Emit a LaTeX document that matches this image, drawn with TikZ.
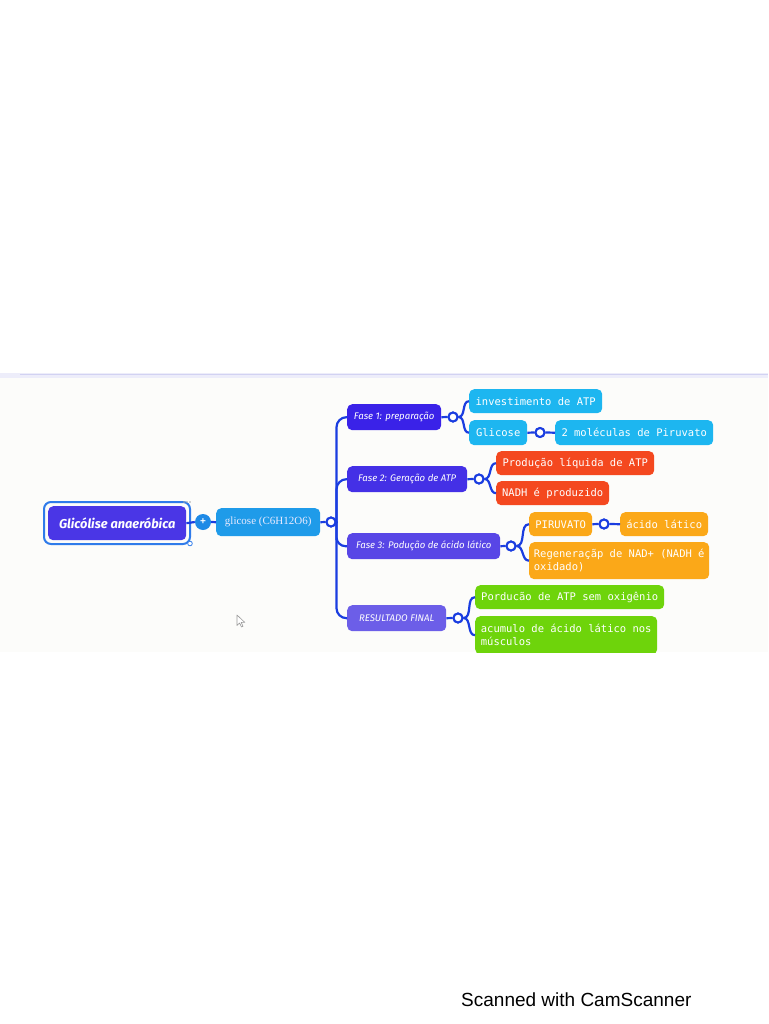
\documentclass[tikz,border=0pt]{standalone}
\usepackage{fontspec}
\newfontfamily\monof{DejaVu Sans Mono}
\newfontfamily\phf{Fira Sans}
\newfontfamily\serf{Liberation Serif}
\newfontfamily\scanf{Liberation Sans}
\usetikzlibrary{calc}
\definecolor{conn}{HTML}{1A3DE0}
\definecolor{rootfill}{HTML}{4A36E6}
\definecolor{ringc}{HTML}{2F7BEA}
\definecolor{plusc}{HTML}{1E8AE6}
\definecolor{glic}{HTML}{1F9BE9}
\definecolor{fa}{HTML}{3A22E8}
\definecolor{fb}{HTML}{4430E6}
\definecolor{fc}{HTML}{5846E6}
\definecolor{fd}{HTML}{6C5EE8}
\definecolor{cyanb}{HTML}{1DB6F0}
\definecolor{redb}{HTML}{F4481F}
\definecolor{orab}{HTML}{FBA818}
\definecolor{greenb}{HTML}{6ED40B}
\definecolor{bandc}{HTML}{FCFCFA}
\definecolor{bandtop}{HTML}{D2D2F2}
\tikzset{
  box/.style={anchor=north west, rounded corners=5pt, inner sep=0pt, text=white},
  mono/.style={box, font=\monof\fontsize{10.5}{13}\selectfont, align=left},
  phase/.style={box, font=\phf\itshape\fontsize{9.6}{12}\selectfont, minimum height=26pt},
  jn/.style={circle, draw=conn, fill=white, line width=2pt, minimum size=9pt, inner sep=0pt},
  cl/.style={draw=conn, line width=2.2pt},
}
\begin{document}
\begin{tikzpicture}[x=1pt,y=-1pt]
\useasboundingbox (0,0) rectangle (768,1024);
\fill[white] (0,0) rectangle (768,1024);
% scanned band
\fill[bandc] (0,374) rectangle (768,652);
\fill[bandtop!40] (0,373) rectangle (768,378);
\draw[bandtop, line width=1.5pt] (20,374.5) -- (768,374.5);
\begin{scope}
\clip (0,374) rectangle (768,652);
% root
\draw[ringc, line width=2pt, rounded corners=7pt] (44,502) rectangle (190,544);
\node[box, fill=rootfill, minimum width=138pt, minimum height=34pt,
      font=\phf\bfseries\itshape\fontsize{12.8}{14}\selectfont] (root) at (48,506) {Glicólise anaeróbica};
\foreach \dx in {0,3,6} \fill[gray!70] (184+\dx,502) circle (0.8);
\draw[ringc, fill=white, line width=0.8pt] (190,543.5) circle (2.3);
\node[circle, fill=plusc, minimum size=16pt, inner sep=0pt, text=white,
      font=\scanf\bfseries\fontsize{10}{10}\selectfont] (plus) at (203,522) {+};
\node[box, fill=glic, minimum width=104pt, minimum height=28pt, text=blue!8!white,
      font=\serf\fontsize{11}{13}\selectfont] (glicose) at (216,508) {glicose (C6H12O6)};
\node[jn] (jg) at (331,522) {};
% phases
\node[phase, fill=fa, minimum width=94pt] (f1) at (347,404) {Fase 1: preparação};
\node[phase, fill=fb, minimum width=120pt] (f2) at (347,466) {Fase 2: Geração de ATP};
\node[phase, fill=fc, minimum width=153pt] (f3) at (347,533) {Fase 3: Podução de ácido lático};
\node[phase, fill=fd, minimum width=99pt] (fr) at (347,605) {RESULTADO FINAL};
\node[jn] (j1) at (453,417) {};
\node[jn] (j2) at (479,479) {};
\node[jn] (j3) at (511,546) {};
\node[jn] (jr) at (458,618) {};
% leaves
\node[mono, fill=cyanb, minimum width=133pt, minimum height=24pt] (inv) at (469,389) {investimento de ATP};
\node[mono, fill=cyanb, minimum width=58pt, minimum height=25pt] (glc) at (469,420) {Glicose};
\node[jn] (jgl) at (540,432.5) {};
\node[mono, fill=cyanb, minimum width=158pt, minimum height=25pt] (mol) at (555,420) {2 moléculas de Piruvato};
\node[mono, fill=redb, minimum width=158pt, minimum height=24pt] (prod) at (496,451) {Produção líquida de ATP};
\node[mono, fill=redb, minimum width=113pt, minimum height=24pt] (nadh) at (496,481) {NADH é produzido};
\node[mono, fill=orab, minimum width=63pt, minimum height=24pt] (piru) at (529,512) {PIRUVATO};
\node[jn] (jp) at (604,524) {};
\node[mono, fill=orab, minimum width=88pt, minimum height=24pt] (acl) at (620,512) {ácido lático};
\node[mono, fill=orab, minimum width=180pt, minimum height=37pt] (regen) at (529,542) {Regeneraçãp de NAD+ (NADH é\\oxidado)};
\node[mono, fill=greenb, minimum width=189pt, minimum height=24pt] (porat) at (475,585) {Porducão de ATP sem oxigênio};
\node[mono, fill=greenb, minimum width=182pt, minimum height=38pt] (acum) at (475,616) {acumulo de ácido lático nos\\músculos};
% straight connectors
\draw[cl] (root.east) -- (plus.west);
\draw[cl] (plus.east) -- (glicose.west);
\draw[cl] (glicose.east) -- (jg.west);
\draw[cl] (f1.east) -- (j1.west);
\draw[cl] (f2.east) -- (j2.west);
\draw[cl] (f3.east) -- (j3.west);
\draw[cl] (fr.east) -- (jr.west);
\draw[cl] (glc.east) -- (jgl.west);
\draw[cl] (jgl.east) -- (mol.west);
\draw[cl] (piru.east) -- (jp.west);
\draw[cl] (jp.east) -- (acl.west);
% trunk
\draw[cl, rounded corners=10pt] (jg.east) .. controls (336.5,522) .. (336.5,513) |- (f1.west);
\draw[cl, rounded corners=10pt] (jg.east) .. controls (336.5,522) .. (336.5,513) |- (f2.west);
\draw[cl, rounded corners=9pt] (jg.east) .. controls (336.5,522) .. (336.5,531) |- (f3.west);
\draw[cl, rounded corners=10pt] (jg.east) .. controls (336.5,522) .. (336.5,531) |- (fr.west);
% sub branches
\draw[cl] (j1.east) to[out=0,in=180] (inv.west);
\draw[cl] (j1.east) to[out=0,in=180] (glc.west);
\draw[cl] (j2.east) to[out=0,in=180] (prod.west);
\draw[cl] (j2.east) to[out=0,in=180] (nadh.west);
\draw[cl] (j3.east) to[out=0,in=180] (piru.west);
\draw[cl] (j3.east) to[out=0,in=180] (regen.west);
\draw[cl] (jr.east) to[out=0,in=180] (porat.west);
\draw[cl] (jr.east) to[out=0,in=180] (acum.west);
% redraw junctions on top
\foreach \j in {jg,j1,j2,j3,jr,jgl,jp} \draw[conn, fill=white, line width=2pt] (\j) circle (4.5);
% cursor
\draw[gray!80, fill=white, line width=0.6pt, line join=round]
  (237,615) -- (237,625.5) -- (239.6,623) -- (241.5,627) -- (243,626.3) -- (241.2,622.4) -- (244.8,622.4) -- cycle;
\end{scope}
\node[anchor=base west, inner sep=0pt, font=\scanf\fontsize{19}{22}\selectfont] (scan) at (461,1006.5) {Scanned with CamScanner};
\end{tikzpicture}
\end{document}
